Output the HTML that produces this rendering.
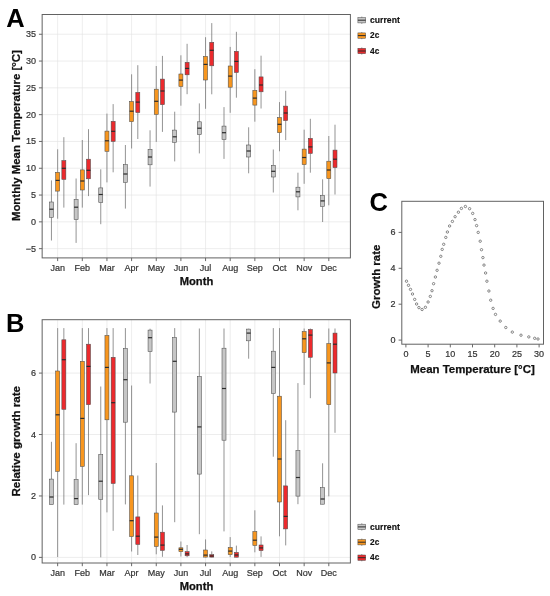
<!DOCTYPE html><html><head><meta charset="utf-8"><style>
html,body{margin:0;padding:0;background:#fff;}svg{display:block;}
text{font-family:"Liberation Sans", "DejaVu Sans", sans-serif;}
.tl{font-size:9px;fill:#333333;stroke:#333333;stroke-width:0.2px;}
.at{font-size:11px;font-weight:bold;fill:#111;stroke:#111;stroke-width:0.25px;}
.lg{font-size:9.2px;font-weight:bold;fill:#111;stroke:#111;stroke-width:0.15px;}
.pl{font-size:25.5px;font-weight:bold;fill:#000;}
</style></head><body>
<svg width="550" height="596" viewBox="0 0 550 596">
<rect width="550" height="596" fill="#fff"/>
<line x1="42.15" x2="350.4" y1="248.65" y2="248.65" stroke="#e0e0e0" stroke-width="0.6"/>
<line x1="42.15" x2="350.4" y1="221.85" y2="221.85" stroke="#e0e0e0" stroke-width="0.6"/>
<line x1="42.15" x2="350.4" y1="195.05" y2="195.05" stroke="#e0e0e0" stroke-width="0.6"/>
<line x1="42.15" x2="350.4" y1="168.25" y2="168.25" stroke="#e0e0e0" stroke-width="0.6"/>
<line x1="42.15" x2="350.4" y1="141.45" y2="141.45" stroke="#e0e0e0" stroke-width="0.6"/>
<line x1="42.15" x2="350.4" y1="114.65" y2="114.65" stroke="#e0e0e0" stroke-width="0.6"/>
<line x1="42.15" x2="350.4" y1="87.85" y2="87.85" stroke="#e0e0e0" stroke-width="0.6"/>
<line x1="42.15" x2="350.4" y1="61.05" y2="61.05" stroke="#e0e0e0" stroke-width="0.6"/>
<line x1="42.15" x2="350.4" y1="34.25" y2="34.25" stroke="#e0e0e0" stroke-width="0.6"/>
<line x1="57.65" x2="57.65" y1="14.5" y2="257.9" stroke="#e0e0e0" stroke-width="0.6"/>
<line x1="82.3" x2="82.3" y1="14.5" y2="257.9" stroke="#e0e0e0" stroke-width="0.6"/>
<line x1="106.95" x2="106.95" y1="14.5" y2="257.9" stroke="#e0e0e0" stroke-width="0.6"/>
<line x1="131.6" x2="131.6" y1="14.5" y2="257.9" stroke="#e0e0e0" stroke-width="0.6"/>
<line x1="156.25" x2="156.25" y1="14.5" y2="257.9" stroke="#e0e0e0" stroke-width="0.6"/>
<line x1="180.9" x2="180.9" y1="14.5" y2="257.9" stroke="#e0e0e0" stroke-width="0.6"/>
<line x1="205.55" x2="205.55" y1="14.5" y2="257.9" stroke="#e0e0e0" stroke-width="0.6"/>
<line x1="230.2" x2="230.2" y1="14.5" y2="257.9" stroke="#e0e0e0" stroke-width="0.6"/>
<line x1="254.85" x2="254.85" y1="14.5" y2="257.9" stroke="#e0e0e0" stroke-width="0.6"/>
<line x1="279.5" x2="279.5" y1="14.5" y2="257.9" stroke="#e0e0e0" stroke-width="0.6"/>
<line x1="304.15" x2="304.15" y1="14.5" y2="257.9" stroke="#e0e0e0" stroke-width="0.6"/>
<line x1="328.8" x2="328.8" y1="14.5" y2="257.9" stroke="#e0e0e0" stroke-width="0.6"/>
<line x1="51.45" x2="51.45" y1="180.4" y2="202" stroke="#666666" stroke-width="0.7"/>
<line x1="51.45" x2="51.45" y1="217.3" y2="240.5" stroke="#666666" stroke-width="0.7"/>
<rect x="49.45" y="202" width="4" height="15.3" fill="#c6c6c6" stroke="#4c4c4c" stroke-width="0.55"/>
<line x1="49.45" x2="53.45" y1="209.2" y2="209.2" stroke="#2b2b2b" stroke-width="1.2"/>
<line x1="57.65" x2="57.65" y1="149.3" y2="172.3" stroke="#666666" stroke-width="0.7"/>
<line x1="57.65" x2="57.65" y1="191.1" y2="218.7" stroke="#666666" stroke-width="0.7"/>
<rect x="55.65" y="172.3" width="4" height="18.8" fill="#f7961f" stroke="#4c4c4c" stroke-width="0.55"/>
<line x1="55.65" x2="59.65" y1="180.4" y2="180.4" stroke="#2b2b2b" stroke-width="1.2"/>
<line x1="63.85" x2="63.85" y1="137.2" y2="160.6" stroke="#666666" stroke-width="0.7"/>
<line x1="63.85" x2="63.85" y1="179.4" y2="207.6" stroke="#666666" stroke-width="0.7"/>
<rect x="61.85" y="160.6" width="4" height="18.8" fill="#ec2a2d" stroke="#4c4c4c" stroke-width="0.55"/>
<line x1="61.85" x2="65.85" y1="168.3" y2="168.3" stroke="#2b2b2b" stroke-width="1.2"/>
<line x1="76.1" x2="76.1" y1="178.5" y2="199.6" stroke="#666666" stroke-width="0.7"/>
<line x1="76.1" x2="76.1" y1="219.7" y2="242.9" stroke="#666666" stroke-width="0.7"/>
<rect x="74.1" y="199.6" width="4" height="20.1" fill="#c6c6c6" stroke="#4c4c4c" stroke-width="0.55"/>
<line x1="74.1" x2="78.1" y1="207.2" y2="207.2" stroke="#2b2b2b" stroke-width="1.2"/>
<line x1="82.3" x2="82.3" y1="140" y2="169.9" stroke="#666666" stroke-width="0.7"/>
<line x1="82.3" x2="82.3" y1="190" y2="207.6" stroke="#666666" stroke-width="0.7"/>
<rect x="80.3" y="169.9" width="4" height="20.1" fill="#f7961f" stroke="#4c4c4c" stroke-width="0.55"/>
<line x1="80.3" x2="84.3" y1="181" y2="181" stroke="#2b2b2b" stroke-width="1.2"/>
<line x1="88.5" x2="88.5" y1="129.2" y2="159.2" stroke="#666666" stroke-width="0.7"/>
<line x1="88.5" x2="88.5" y1="178.8" y2="196.1" stroke="#666666" stroke-width="0.7"/>
<rect x="86.5" y="159.2" width="4" height="19.6" fill="#ec2a2d" stroke="#4c4c4c" stroke-width="0.55"/>
<line x1="86.5" x2="90.5" y1="170.3" y2="170.3" stroke="#2b2b2b" stroke-width="1.2"/>
<line x1="100.75" x2="100.75" y1="169.3" y2="187.9" stroke="#666666" stroke-width="0.7"/>
<line x1="100.75" x2="100.75" y1="202.6" y2="224.2" stroke="#666666" stroke-width="0.7"/>
<rect x="98.75" y="187.9" width="4" height="14.7" fill="#c6c6c6" stroke="#4c4c4c" stroke-width="0.55"/>
<line x1="98.75" x2="102.75" y1="194.5" y2="194.5" stroke="#2b2b2b" stroke-width="1.2"/>
<line x1="106.95" x2="106.95" y1="113.6" y2="131.1" stroke="#666666" stroke-width="0.7"/>
<line x1="106.95" x2="106.95" y1="151.3" y2="182.4" stroke="#666666" stroke-width="0.7"/>
<rect x="104.95" y="131.1" width="4" height="20.2" fill="#f7961f" stroke="#4c4c4c" stroke-width="0.55"/>
<line x1="104.95" x2="108.95" y1="140.8" y2="140.8" stroke="#2b2b2b" stroke-width="1.2"/>
<line x1="113.15" x2="113.15" y1="104.1" y2="121.3" stroke="#666666" stroke-width="0.7"/>
<line x1="113.15" x2="113.15" y1="141.4" y2="172.3" stroke="#666666" stroke-width="0.7"/>
<rect x="111.15" y="121.3" width="4" height="20.1" fill="#ec2a2d" stroke="#4c4c4c" stroke-width="0.55"/>
<line x1="111.15" x2="115.15" y1="131.3" y2="131.3" stroke="#2b2b2b" stroke-width="1.2"/>
<line x1="125.4" x2="125.4" y1="145" y2="164.7" stroke="#666666" stroke-width="0.7"/>
<line x1="125.4" x2="125.4" y1="182.4" y2="208.6" stroke="#666666" stroke-width="0.7"/>
<rect x="123.4" y="164.7" width="4" height="17.7" fill="#c6c6c6" stroke="#4c4c4c" stroke-width="0.55"/>
<line x1="123.4" x2="127.4" y1="174" y2="174" stroke="#2b2b2b" stroke-width="1.2"/>
<line x1="131.6" x2="131.6" y1="74.3" y2="101.5" stroke="#666666" stroke-width="0.7"/>
<line x1="131.6" x2="131.6" y1="121.7" y2="148.5" stroke="#666666" stroke-width="0.7"/>
<rect x="129.6" y="101.5" width="4" height="20.2" fill="#f7961f" stroke="#4c4c4c" stroke-width="0.55"/>
<line x1="129.6" x2="133.6" y1="111.2" y2="111.2" stroke="#2b2b2b" stroke-width="1.2"/>
<line x1="137.8" x2="137.8" y1="65.2" y2="92.4" stroke="#666666" stroke-width="0.7"/>
<line x1="137.8" x2="137.8" y1="112.6" y2="139" stroke="#666666" stroke-width="0.7"/>
<rect x="135.8" y="92.4" width="4" height="20.2" fill="#ec2a2d" stroke="#4c4c4c" stroke-width="0.55"/>
<line x1="135.8" x2="139.8" y1="102.1" y2="102.1" stroke="#2b2b2b" stroke-width="1.2"/>
<line x1="150.05" x2="150.05" y1="130.3" y2="149.3" stroke="#666666" stroke-width="0.7"/>
<line x1="150.05" x2="150.05" y1="164.8" y2="186.6" stroke="#666666" stroke-width="0.7"/>
<rect x="148.05" y="149.3" width="4" height="15.5" fill="#c6c6c6" stroke="#4c4c4c" stroke-width="0.55"/>
<line x1="148.05" x2="152.05" y1="157" y2="157" stroke="#2b2b2b" stroke-width="1.2"/>
<line x1="156.25" x2="156.25" y1="66" y2="89.2" stroke="#666666" stroke-width="0.7"/>
<line x1="156.25" x2="156.25" y1="114.4" y2="141.9" stroke="#666666" stroke-width="0.7"/>
<rect x="154.25" y="89.2" width="4" height="25.2" fill="#f7961f" stroke="#4c4c4c" stroke-width="0.55"/>
<line x1="154.25" x2="158.25" y1="101.3" y2="101.3" stroke="#2b2b2b" stroke-width="1.2"/>
<line x1="162.45" x2="162.45" y1="55.9" y2="79.1" stroke="#666666" stroke-width="0.7"/>
<line x1="162.45" x2="162.45" y1="104.7" y2="131.9" stroke="#666666" stroke-width="0.7"/>
<rect x="160.45" y="79.1" width="4" height="25.6" fill="#ec2a2d" stroke="#4c4c4c" stroke-width="0.55"/>
<line x1="160.45" x2="164.45" y1="91" y2="91" stroke="#2b2b2b" stroke-width="1.2"/>
<line x1="174.7" x2="174.7" y1="111.7" y2="130.1" stroke="#666666" stroke-width="0.7"/>
<line x1="174.7" x2="174.7" y1="142.3" y2="161.4" stroke="#666666" stroke-width="0.7"/>
<rect x="172.7" y="130.1" width="4" height="12.2" fill="#c6c6c6" stroke="#4c4c4c" stroke-width="0.55"/>
<line x1="172.7" x2="176.7" y1="136.8" y2="136.8" stroke="#2b2b2b" stroke-width="1.2"/>
<line x1="180.9" x2="180.9" y1="55.3" y2="74" stroke="#666666" stroke-width="0.7"/>
<line x1="180.9" x2="180.9" y1="86.5" y2="105.7" stroke="#666666" stroke-width="0.7"/>
<rect x="178.9" y="74" width="4" height="12.5" fill="#f7961f" stroke="#4c4c4c" stroke-width="0.55"/>
<line x1="178.9" x2="182.9" y1="80.1" y2="80.1" stroke="#2b2b2b" stroke-width="1.2"/>
<line x1="187.1" x2="187.1" y1="43.8" y2="62.3" stroke="#666666" stroke-width="0.7"/>
<line x1="187.1" x2="187.1" y1="74.8" y2="94.2" stroke="#666666" stroke-width="0.7"/>
<rect x="185.1" y="62.3" width="4" height="12.5" fill="#ec2a2d" stroke="#4c4c4c" stroke-width="0.55"/>
<line x1="185.1" x2="189.1" y1="68.4" y2="68.4" stroke="#2b2b2b" stroke-width="1.2"/>
<line x1="199.35" x2="199.35" y1="103.4" y2="121.8" stroke="#666666" stroke-width="0.7"/>
<line x1="199.35" x2="199.35" y1="134.7" y2="153.4" stroke="#666666" stroke-width="0.7"/>
<rect x="197.35" y="121.8" width="4" height="12.9" fill="#c6c6c6" stroke="#4c4c4c" stroke-width="0.55"/>
<line x1="197.35" x2="201.35" y1="128.2" y2="128.2" stroke="#2b2b2b" stroke-width="1.2"/>
<line x1="205.55" x2="205.55" y1="37.2" y2="56.4" stroke="#666666" stroke-width="0.7"/>
<line x1="205.55" x2="205.55" y1="80" y2="108.8" stroke="#666666" stroke-width="0.7"/>
<rect x="203.55" y="56.4" width="4" height="23.6" fill="#f7961f" stroke="#4c4c4c" stroke-width="0.55"/>
<line x1="203.55" x2="207.55" y1="64.4" y2="64.4" stroke="#2b2b2b" stroke-width="1.2"/>
<line x1="211.75" x2="211.75" y1="23.1" y2="42.3" stroke="#666666" stroke-width="0.7"/>
<line x1="211.75" x2="211.75" y1="65.8" y2="94.3" stroke="#666666" stroke-width="0.7"/>
<rect x="209.75" y="42.3" width="4" height="23.5" fill="#ec2a2d" stroke="#4c4c4c" stroke-width="0.55"/>
<line x1="209.75" x2="213.75" y1="50.3" y2="50.3" stroke="#2b2b2b" stroke-width="1.2"/>
<line x1="224" x2="224" y1="107.1" y2="126.1" stroke="#666666" stroke-width="0.7"/>
<line x1="224" x2="224" y1="139.7" y2="158.9" stroke="#666666" stroke-width="0.7"/>
<rect x="222" y="126.1" width="4" height="13.6" fill="#c6c6c6" stroke="#4c4c4c" stroke-width="0.55"/>
<line x1="222" x2="226" y1="132.7" y2="132.7" stroke="#2b2b2b" stroke-width="1.2"/>
<line x1="230.2" x2="230.2" y1="46.9" y2="66" stroke="#666666" stroke-width="0.7"/>
<line x1="230.2" x2="230.2" y1="87.2" y2="112.8" stroke="#666666" stroke-width="0.7"/>
<rect x="228.2" y="66" width="4" height="21.2" fill="#f7961f" stroke="#4c4c4c" stroke-width="0.55"/>
<line x1="228.2" x2="232.2" y1="76.1" y2="76.1" stroke="#2b2b2b" stroke-width="1.2"/>
<line x1="236.4" x2="236.4" y1="31.8" y2="51.3" stroke="#666666" stroke-width="0.7"/>
<line x1="236.4" x2="236.4" y1="72.5" y2="97.7" stroke="#666666" stroke-width="0.7"/>
<rect x="234.4" y="51.3" width="4" height="21.2" fill="#ec2a2d" stroke="#4c4c4c" stroke-width="0.55"/>
<line x1="234.4" x2="238.4" y1="61.4" y2="61.4" stroke="#2b2b2b" stroke-width="1.2"/>
<line x1="248.65" x2="248.65" y1="127.3" y2="145" stroke="#666666" stroke-width="0.7"/>
<line x1="248.65" x2="248.65" y1="157" y2="173.3" stroke="#666666" stroke-width="0.7"/>
<rect x="246.65" y="145" width="4" height="12" fill="#c6c6c6" stroke="#4c4c4c" stroke-width="0.55"/>
<line x1="246.65" x2="250.65" y1="151" y2="151" stroke="#2b2b2b" stroke-width="1.2"/>
<line x1="254.85" x2="254.85" y1="69.2" y2="90.4" stroke="#666666" stroke-width="0.7"/>
<line x1="254.85" x2="254.85" y1="105.1" y2="121.7" stroke="#666666" stroke-width="0.7"/>
<rect x="252.85" y="90.4" width="4" height="14.7" fill="#f7961f" stroke="#4c4c4c" stroke-width="0.55"/>
<line x1="252.85" x2="256.85" y1="98.1" y2="98.1" stroke="#2b2b2b" stroke-width="1.2"/>
<line x1="261.05" x2="261.05" y1="55.7" y2="76.9" stroke="#666666" stroke-width="0.7"/>
<line x1="261.05" x2="261.05" y1="91.8" y2="108.5" stroke="#666666" stroke-width="0.7"/>
<rect x="259.05" y="76.9" width="4" height="14.9" fill="#ec2a2d" stroke="#4c4c4c" stroke-width="0.55"/>
<line x1="259.05" x2="263.05" y1="85" y2="85" stroke="#2b2b2b" stroke-width="1.2"/>
<line x1="273.3" x2="273.3" y1="149.5" y2="165.3" stroke="#666666" stroke-width="0.7"/>
<line x1="273.3" x2="273.3" y1="177" y2="192.5" stroke="#666666" stroke-width="0.7"/>
<rect x="271.3" y="165.3" width="4" height="11.7" fill="#c6c6c6" stroke="#4c4c4c" stroke-width="0.55"/>
<line x1="271.3" x2="275.3" y1="171.3" y2="171.3" stroke="#2b2b2b" stroke-width="1.2"/>
<line x1="279.5" x2="279.5" y1="102.1" y2="117.6" stroke="#666666" stroke-width="0.7"/>
<line x1="279.5" x2="279.5" y1="132.7" y2="151.3" stroke="#666666" stroke-width="0.7"/>
<rect x="277.5" y="117.6" width="4" height="15.1" fill="#f7961f" stroke="#4c4c4c" stroke-width="0.55"/>
<line x1="277.5" x2="281.5" y1="124.3" y2="124.3" stroke="#2b2b2b" stroke-width="1.2"/>
<line x1="285.7" x2="285.7" y1="90.8" y2="106.1" stroke="#666666" stroke-width="0.7"/>
<line x1="285.7" x2="285.7" y1="120.6" y2="140.1" stroke="#666666" stroke-width="0.7"/>
<rect x="283.7" y="106.1" width="4" height="14.5" fill="#ec2a2d" stroke="#4c4c4c" stroke-width="0.55"/>
<line x1="283.7" x2="287.7" y1="113" y2="113" stroke="#2b2b2b" stroke-width="1.2"/>
<line x1="297.95" x2="297.95" y1="172.7" y2="187.2" stroke="#666666" stroke-width="0.7"/>
<line x1="297.95" x2="297.95" y1="196.9" y2="210.3" stroke="#666666" stroke-width="0.7"/>
<rect x="295.95" y="187.2" width="4" height="9.7" fill="#c6c6c6" stroke="#4c4c4c" stroke-width="0.55"/>
<line x1="295.95" x2="299.95" y1="191.8" y2="191.8" stroke="#2b2b2b" stroke-width="1.2"/>
<line x1="304.15" x2="304.15" y1="129.7" y2="149.1" stroke="#666666" stroke-width="0.7"/>
<line x1="304.15" x2="304.15" y1="164.6" y2="183.8" stroke="#666666" stroke-width="0.7"/>
<rect x="302.15" y="149.1" width="4" height="15.5" fill="#f7961f" stroke="#4c4c4c" stroke-width="0.55"/>
<line x1="302.15" x2="306.15" y1="157.5" y2="157.5" stroke="#2b2b2b" stroke-width="1.2"/>
<line x1="310.35" x2="310.35" y1="118.8" y2="138.4" stroke="#666666" stroke-width="0.7"/>
<line x1="310.35" x2="310.35" y1="153.5" y2="172.7" stroke="#666666" stroke-width="0.7"/>
<rect x="308.35" y="138.4" width="4" height="15.1" fill="#ec2a2d" stroke="#4c4c4c" stroke-width="0.55"/>
<line x1="308.35" x2="312.35" y1="146.9" y2="146.9" stroke="#2b2b2b" stroke-width="1.2"/>
<line x1="322.6" x2="322.6" y1="179.3" y2="195.4" stroke="#666666" stroke-width="0.7"/>
<line x1="322.6" x2="322.6" y1="206.5" y2="222" stroke="#666666" stroke-width="0.7"/>
<rect x="320.6" y="195.4" width="4" height="11.1" fill="#c6c6c6" stroke="#4c4c4c" stroke-width="0.55"/>
<line x1="320.6" x2="324.6" y1="200.9" y2="200.9" stroke="#2b2b2b" stroke-width="1.2"/>
<line x1="328.8" x2="328.8" y1="136" y2="161.2" stroke="#666666" stroke-width="0.7"/>
<line x1="328.8" x2="328.8" y1="178.7" y2="205.3" stroke="#666666" stroke-width="0.7"/>
<rect x="326.8" y="161.2" width="4" height="17.5" fill="#f7961f" stroke="#4c4c4c" stroke-width="0.55"/>
<line x1="326.8" x2="330.8" y1="170" y2="170" stroke="#2b2b2b" stroke-width="1.2"/>
<line x1="335" x2="335" y1="124.7" y2="150.1" stroke="#666666" stroke-width="0.7"/>
<line x1="335" x2="335" y1="167.6" y2="194.5" stroke="#666666" stroke-width="0.7"/>
<rect x="333" y="150.1" width="4" height="17.5" fill="#ec2a2d" stroke="#4c4c4c" stroke-width="0.55"/>
<line x1="333" x2="337" y1="159.2" y2="159.2" stroke="#2b2b2b" stroke-width="1.2"/>
<line x1="38.95" x2="42.15" y1="248.65" y2="248.65" stroke="#444444" stroke-width="0.8"/>
<text x="35.95" y="251.65" text-anchor="end" class="tl">−5</text>
<line x1="38.95" x2="42.15" y1="221.85" y2="221.85" stroke="#444444" stroke-width="0.8"/>
<text x="35.95" y="224.85" text-anchor="end" class="tl">0</text>
<line x1="38.95" x2="42.15" y1="195.05" y2="195.05" stroke="#444444" stroke-width="0.8"/>
<text x="35.95" y="198.05" text-anchor="end" class="tl">5</text>
<line x1="38.95" x2="42.15" y1="168.25" y2="168.25" stroke="#444444" stroke-width="0.8"/>
<text x="35.95" y="171.25" text-anchor="end" class="tl">10</text>
<line x1="38.95" x2="42.15" y1="141.45" y2="141.45" stroke="#444444" stroke-width="0.8"/>
<text x="35.95" y="144.45" text-anchor="end" class="tl">15</text>
<line x1="38.95" x2="42.15" y1="114.65" y2="114.65" stroke="#444444" stroke-width="0.8"/>
<text x="35.95" y="117.65" text-anchor="end" class="tl">20</text>
<line x1="38.95" x2="42.15" y1="87.85" y2="87.85" stroke="#444444" stroke-width="0.8"/>
<text x="35.95" y="90.85" text-anchor="end" class="tl">25</text>
<line x1="38.95" x2="42.15" y1="61.05" y2="61.05" stroke="#444444" stroke-width="0.8"/>
<text x="35.95" y="64.05" text-anchor="end" class="tl">30</text>
<line x1="38.95" x2="42.15" y1="34.25" y2="34.25" stroke="#444444" stroke-width="0.8"/>
<text x="35.95" y="37.25" text-anchor="end" class="tl">35</text>
<line x1="57.65" x2="57.65" y1="257.9" y2="261.1" stroke="#444444" stroke-width="0.8"/>
<text x="57.65" y="271" text-anchor="middle" class="tl">Jan</text>
<line x1="82.3" x2="82.3" y1="257.9" y2="261.1" stroke="#444444" stroke-width="0.8"/>
<text x="82.3" y="271" text-anchor="middle" class="tl">Feb</text>
<line x1="106.95" x2="106.95" y1="257.9" y2="261.1" stroke="#444444" stroke-width="0.8"/>
<text x="106.95" y="271" text-anchor="middle" class="tl">Mar</text>
<line x1="131.6" x2="131.6" y1="257.9" y2="261.1" stroke="#444444" stroke-width="0.8"/>
<text x="131.6" y="271" text-anchor="middle" class="tl">Apr</text>
<line x1="156.25" x2="156.25" y1="257.9" y2="261.1" stroke="#444444" stroke-width="0.8"/>
<text x="156.25" y="271" text-anchor="middle" class="tl">May</text>
<line x1="180.9" x2="180.9" y1="257.9" y2="261.1" stroke="#444444" stroke-width="0.8"/>
<text x="180.9" y="271" text-anchor="middle" class="tl">Jun</text>
<line x1="205.55" x2="205.55" y1="257.9" y2="261.1" stroke="#444444" stroke-width="0.8"/>
<text x="205.55" y="271" text-anchor="middle" class="tl">Jul</text>
<line x1="230.2" x2="230.2" y1="257.9" y2="261.1" stroke="#444444" stroke-width="0.8"/>
<text x="230.2" y="271" text-anchor="middle" class="tl">Aug</text>
<line x1="254.85" x2="254.85" y1="257.9" y2="261.1" stroke="#444444" stroke-width="0.8"/>
<text x="254.85" y="271" text-anchor="middle" class="tl">Sep</text>
<line x1="279.5" x2="279.5" y1="257.9" y2="261.1" stroke="#444444" stroke-width="0.8"/>
<text x="279.5" y="271" text-anchor="middle" class="tl">Oct</text>
<line x1="304.15" x2="304.15" y1="257.9" y2="261.1" stroke="#444444" stroke-width="0.8"/>
<text x="304.15" y="271" text-anchor="middle" class="tl">Nov</text>
<line x1="328.8" x2="328.8" y1="257.9" y2="261.1" stroke="#444444" stroke-width="0.8"/>
<text x="328.8" y="271" text-anchor="middle" class="tl">Dec</text>
<rect x="42.15" y="14.5" width="308.25" height="243.4" fill="none" stroke="#626262" stroke-width="1"/>
<text x="196.5" y="284.7" text-anchor="middle" class="at" textLength="33.6" lengthAdjust="spacingAndGlyphs">Month</text>
<text transform="translate(20.1,135.6) rotate(-90)" text-anchor="middle" class="at" textLength="171" lengthAdjust="spacingAndGlyphs">Monthly Mean Temperature [°C]</text>
<text x="6.3" y="26.9" class="pl">A</text>
<line x1="361.8" x2="361.8" y1="16.6" y2="23.8" stroke="#666666" stroke-width="0.7"/>
<rect x="357.9" y="17.5" width="7.8" height="5.4" fill="#c6c6c6" stroke="#4c4c4c" stroke-width="0.5"/>
<line x1="357.9" x2="365.7" y1="20.2" y2="20.2" stroke="#2b2b2b" stroke-width="1"/>
<text x="370" y="22.95" class="lg" textLength="29.8" lengthAdjust="spacingAndGlyphs">current</text>
<line x1="361.8" x2="361.8" y1="32" y2="39.2" stroke="#666666" stroke-width="0.7"/>
<rect x="357.9" y="32.9" width="7.8" height="5.4" fill="#f7961f" stroke="#4c4c4c" stroke-width="0.5"/>
<line x1="357.9" x2="365.7" y1="35.6" y2="35.6" stroke="#2b2b2b" stroke-width="1"/>
<text x="370" y="38.35" class="lg" textLength="9.3" lengthAdjust="spacingAndGlyphs">2c</text>
<line x1="361.8" x2="361.8" y1="47.4" y2="54.6" stroke="#666666" stroke-width="0.7"/>
<rect x="357.9" y="48.3" width="7.8" height="5.4" fill="#ec2a2d" stroke="#4c4c4c" stroke-width="0.5"/>
<line x1="357.9" x2="365.7" y1="51" y2="51" stroke="#2b2b2b" stroke-width="1"/>
<text x="370" y="53.75" class="lg" textLength="9.3" lengthAdjust="spacingAndGlyphs">4c</text>
<line x1="42.15" x2="350.4" y1="557.4" y2="557.4" stroke="#e0e0e0" stroke-width="0.6"/>
<line x1="42.15" x2="350.4" y1="495.96" y2="495.96" stroke="#e0e0e0" stroke-width="0.6"/>
<line x1="42.15" x2="350.4" y1="434.52" y2="434.52" stroke="#e0e0e0" stroke-width="0.6"/>
<line x1="42.15" x2="350.4" y1="373.08" y2="373.08" stroke="#e0e0e0" stroke-width="0.6"/>
<line x1="57.65" x2="57.65" y1="319.7" y2="563" stroke="#e0e0e0" stroke-width="0.6"/>
<line x1="82.3" x2="82.3" y1="319.7" y2="563" stroke="#e0e0e0" stroke-width="0.6"/>
<line x1="106.95" x2="106.95" y1="319.7" y2="563" stroke="#e0e0e0" stroke-width="0.6"/>
<line x1="131.6" x2="131.6" y1="319.7" y2="563" stroke="#e0e0e0" stroke-width="0.6"/>
<line x1="156.25" x2="156.25" y1="319.7" y2="563" stroke="#e0e0e0" stroke-width="0.6"/>
<line x1="180.9" x2="180.9" y1="319.7" y2="563" stroke="#e0e0e0" stroke-width="0.6"/>
<line x1="205.55" x2="205.55" y1="319.7" y2="563" stroke="#e0e0e0" stroke-width="0.6"/>
<line x1="230.2" x2="230.2" y1="319.7" y2="563" stroke="#e0e0e0" stroke-width="0.6"/>
<line x1="254.85" x2="254.85" y1="319.7" y2="563" stroke="#e0e0e0" stroke-width="0.6"/>
<line x1="279.5" x2="279.5" y1="319.7" y2="563" stroke="#e0e0e0" stroke-width="0.6"/>
<line x1="304.15" x2="304.15" y1="319.7" y2="563" stroke="#e0e0e0" stroke-width="0.6"/>
<line x1="328.8" x2="328.8" y1="319.7" y2="563" stroke="#e0e0e0" stroke-width="0.6"/>
<line x1="51.45" x2="51.45" y1="441.8" y2="479.1" stroke="#666666" stroke-width="0.7"/>
<line x1="51.45" x2="51.45" y1="504.7" y2="504.7" stroke="#666666" stroke-width="0.7"/>
<rect x="49.45" y="479.1" width="4" height="25.6" fill="#c6c6c6" stroke="#4c4c4c" stroke-width="0.55"/>
<line x1="49.45" x2="53.45" y1="497" y2="497" stroke="#2b2b2b" stroke-width="1.2"/>
<line x1="57.65" x2="57.65" y1="328.1" y2="371" stroke="#666666" stroke-width="0.7"/>
<line x1="57.65" x2="57.65" y1="471.4" y2="557" stroke="#666666" stroke-width="0.7"/>
<rect x="55.65" y="371" width="4" height="100.4" fill="#f7961f" stroke="#4c4c4c" stroke-width="0.55"/>
<line x1="55.65" x2="59.65" y1="414.8" y2="414.8" stroke="#2b2b2b" stroke-width="1.2"/>
<line x1="63.85" x2="63.85" y1="328.1" y2="339.8" stroke="#666666" stroke-width="0.7"/>
<line x1="63.85" x2="63.85" y1="409.3" y2="504.6" stroke="#666666" stroke-width="0.7"/>
<rect x="61.85" y="339.8" width="4" height="69.5" fill="#ec2a2d" stroke="#4c4c4c" stroke-width="0.55"/>
<line x1="61.85" x2="65.85" y1="359.7" y2="359.7" stroke="#2b2b2b" stroke-width="1.2"/>
<line x1="76.1" x2="76.1" y1="443.2" y2="479.5" stroke="#666666" stroke-width="0.7"/>
<line x1="76.1" x2="76.1" y1="504.7" y2="504.7" stroke="#666666" stroke-width="0.7"/>
<rect x="74.1" y="479.5" width="4" height="25.2" fill="#c6c6c6" stroke="#4c4c4c" stroke-width="0.55"/>
<line x1="74.1" x2="78.1" y1="498.6" y2="498.6" stroke="#2b2b2b" stroke-width="1.2"/>
<line x1="82.3" x2="82.3" y1="328.1" y2="361.3" stroke="#666666" stroke-width="0.7"/>
<line x1="82.3" x2="82.3" y1="466.4" y2="504.6" stroke="#666666" stroke-width="0.7"/>
<rect x="80.3" y="361.3" width="4" height="105.1" fill="#f7961f" stroke="#4c4c4c" stroke-width="0.55"/>
<line x1="80.3" x2="84.3" y1="418.4" y2="418.4" stroke="#2b2b2b" stroke-width="1.2"/>
<line x1="88.5" x2="88.5" y1="328.1" y2="344.2" stroke="#666666" stroke-width="0.7"/>
<line x1="88.5" x2="88.5" y1="404.7" y2="495.1" stroke="#666666" stroke-width="0.7"/>
<rect x="86.5" y="344.2" width="4" height="60.5" fill="#ec2a2d" stroke="#4c4c4c" stroke-width="0.55"/>
<line x1="86.5" x2="90.5" y1="366.4" y2="366.4" stroke="#2b2b2b" stroke-width="1.2"/>
<line x1="100.75" x2="100.75" y1="386.5" y2="454.5" stroke="#666666" stroke-width="0.7"/>
<line x1="100.75" x2="100.75" y1="499.3" y2="557.3" stroke="#666666" stroke-width="0.7"/>
<rect x="98.75" y="454.5" width="4" height="44.8" fill="#c6c6c6" stroke="#4c4c4c" stroke-width="0.55"/>
<line x1="98.75" x2="102.75" y1="481.2" y2="481.2" stroke="#2b2b2b" stroke-width="1.2"/>
<line x1="106.95" x2="106.95" y1="328.1" y2="335.5" stroke="#666666" stroke-width="0.7"/>
<line x1="106.95" x2="106.95" y1="419.8" y2="512.4" stroke="#666666" stroke-width="0.7"/>
<rect x="104.95" y="335.5" width="4" height="84.3" fill="#f7961f" stroke="#4c4c4c" stroke-width="0.55"/>
<line x1="104.95" x2="108.95" y1="367.4" y2="367.4" stroke="#2b2b2b" stroke-width="1.2"/>
<line x1="113.15" x2="113.15" y1="328.1" y2="357.3" stroke="#666666" stroke-width="0.7"/>
<line x1="113.15" x2="113.15" y1="483.5" y2="530.8" stroke="#666666" stroke-width="0.7"/>
<rect x="111.15" y="357.3" width="4" height="126.2" fill="#ec2a2d" stroke="#4c4c4c" stroke-width="0.55"/>
<line x1="111.15" x2="115.15" y1="402.7" y2="402.7" stroke="#2b2b2b" stroke-width="1.2"/>
<line x1="125.4" x2="125.4" y1="328.1" y2="348.6" stroke="#666666" stroke-width="0.7"/>
<line x1="125.4" x2="125.4" y1="422.2" y2="504.4" stroke="#666666" stroke-width="0.7"/>
<rect x="123.4" y="348.6" width="4" height="73.6" fill="#c6c6c6" stroke="#4c4c4c" stroke-width="0.55"/>
<line x1="123.4" x2="127.4" y1="379.7" y2="379.7" stroke="#2b2b2b" stroke-width="1.2"/>
<line x1="131.6" x2="131.6" y1="385.5" y2="475.8" stroke="#666666" stroke-width="0.7"/>
<line x1="131.6" x2="131.6" y1="536.6" y2="551.5" stroke="#666666" stroke-width="0.7"/>
<rect x="129.6" y="475.8" width="4" height="60.8" fill="#f7961f" stroke="#4c4c4c" stroke-width="0.55"/>
<line x1="129.6" x2="133.6" y1="520.7" y2="520.7" stroke="#2b2b2b" stroke-width="1.2"/>
<line x1="137.8" x2="137.8" y1="475.5" y2="516.9" stroke="#666666" stroke-width="0.7"/>
<line x1="137.8" x2="137.8" y1="544.5" y2="555" stroke="#666666" stroke-width="0.7"/>
<rect x="135.8" y="516.9" width="4" height="27.6" fill="#ec2a2d" stroke="#4c4c4c" stroke-width="0.55"/>
<line x1="135.8" x2="139.8" y1="536.2" y2="536.2" stroke="#2b2b2b" stroke-width="1.2"/>
<line x1="150.05" x2="150.05" y1="328.7" y2="330.1" stroke="#666666" stroke-width="0.7"/>
<line x1="150.05" x2="150.05" y1="351.7" y2="383.5" stroke="#666666" stroke-width="0.7"/>
<rect x="148.05" y="330.1" width="4" height="21.6" fill="#c6c6c6" stroke="#4c4c4c" stroke-width="0.55"/>
<line x1="148.05" x2="152.05" y1="337.7" y2="337.7" stroke="#2b2b2b" stroke-width="1.2"/>
<line x1="156.25" x2="156.25" y1="463" y2="513" stroke="#666666" stroke-width="0.7"/>
<line x1="156.25" x2="156.25" y1="546.5" y2="554.3" stroke="#666666" stroke-width="0.7"/>
<rect x="154.25" y="513" width="4" height="33.5" fill="#f7961f" stroke="#4c4c4c" stroke-width="0.55"/>
<line x1="154.25" x2="158.25" y1="537.1" y2="537.1" stroke="#2b2b2b" stroke-width="1.2"/>
<line x1="162.45" x2="162.45" y1="505.4" y2="532.2" stroke="#666666" stroke-width="0.7"/>
<line x1="162.45" x2="162.45" y1="550.4" y2="556.8" stroke="#666666" stroke-width="0.7"/>
<rect x="160.45" y="532.2" width="4" height="18.2" fill="#ec2a2d" stroke="#4c4c4c" stroke-width="0.55"/>
<line x1="160.45" x2="164.45" y1="545.1" y2="545.1" stroke="#2b2b2b" stroke-width="1.2"/>
<line x1="174.7" x2="174.7" y1="328.1" y2="337.7" stroke="#666666" stroke-width="0.7"/>
<line x1="174.7" x2="174.7" y1="412.1" y2="522.2" stroke="#666666" stroke-width="0.7"/>
<rect x="172.7" y="337.7" width="4" height="74.4" fill="#c6c6c6" stroke="#4c4c4c" stroke-width="0.55"/>
<line x1="172.7" x2="176.7" y1="361.3" y2="361.3" stroke="#2b2b2b" stroke-width="1.2"/>
<line x1="180.9" x2="180.9" y1="541.5" y2="547.8" stroke="#666666" stroke-width="0.7"/>
<line x1="180.9" x2="180.9" y1="551.7" y2="556.5" stroke="#666666" stroke-width="0.7"/>
<rect x="178.9" y="547.8" width="4" height="3.9" fill="#f7961f" stroke="#4c4c4c" stroke-width="0.55"/>
<line x1="178.9" x2="182.9" y1="549.3" y2="549.3" stroke="#2b2b2b" stroke-width="1.2"/>
<line x1="187.1" x2="187.1" y1="545" y2="551.6" stroke="#666666" stroke-width="0.7"/>
<line x1="187.1" x2="187.1" y1="555.8" y2="557.2" stroke="#666666" stroke-width="0.7"/>
<rect x="185.1" y="551.6" width="4" height="4.2" fill="#ec2a2d" stroke="#4c4c4c" stroke-width="0.55"/>
<line x1="185.1" x2="189.1" y1="553.9" y2="553.9" stroke="#2b2b2b" stroke-width="1.2"/>
<line x1="199.35" x2="199.35" y1="328.5" y2="376.5" stroke="#666666" stroke-width="0.7"/>
<line x1="199.35" x2="199.35" y1="474.1" y2="534.2" stroke="#666666" stroke-width="0.7"/>
<rect x="197.35" y="376.5" width="4" height="97.6" fill="#c6c6c6" stroke="#4c4c4c" stroke-width="0.55"/>
<line x1="197.35" x2="201.35" y1="426.9" y2="426.9" stroke="#2b2b2b" stroke-width="1.2"/>
<line x1="205.55" x2="205.55" y1="539.4" y2="550" stroke="#666666" stroke-width="0.7"/>
<line x1="205.55" x2="205.55" y1="557.1" y2="557.4" stroke="#666666" stroke-width="0.7"/>
<rect x="203.55" y="550" width="4" height="7.1" fill="#f7961f" stroke="#4c4c4c" stroke-width="0.55"/>
<line x1="203.55" x2="207.55" y1="555.1" y2="555.1" stroke="#2b2b2b" stroke-width="1.2"/>
<line x1="211.75" x2="211.75" y1="551.4" y2="554.7" stroke="#666666" stroke-width="0.7"/>
<line x1="211.75" x2="211.75" y1="557.1" y2="557.4" stroke="#666666" stroke-width="0.7"/>
<rect x="209.75" y="554.7" width="4" height="2.4" fill="#ec2a2d" stroke="#4c4c4c" stroke-width="0.55"/>
<line x1="209.75" x2="213.75" y1="556" y2="556" stroke="#2b2b2b" stroke-width="1.2"/>
<line x1="224" x2="224" y1="328.5" y2="348.2" stroke="#666666" stroke-width="0.7"/>
<line x1="224" x2="224" y1="440.2" y2="531.4" stroke="#666666" stroke-width="0.7"/>
<rect x="222" y="348.2" width="4" height="92" fill="#c6c6c6" stroke="#4c4c4c" stroke-width="0.55"/>
<line x1="222" x2="226" y1="388.5" y2="388.5" stroke="#2b2b2b" stroke-width="1.2"/>
<line x1="230.2" x2="230.2" y1="537.1" y2="547.5" stroke="#666666" stroke-width="0.7"/>
<line x1="230.2" x2="230.2" y1="554.7" y2="557.1" stroke="#666666" stroke-width="0.7"/>
<rect x="228.2" y="547.5" width="4" height="7.2" fill="#f7961f" stroke="#4c4c4c" stroke-width="0.55"/>
<line x1="228.2" x2="232.2" y1="551.1" y2="551.1" stroke="#2b2b2b" stroke-width="1.2"/>
<line x1="236.4" x2="236.4" y1="545.6" y2="552.4" stroke="#666666" stroke-width="0.7"/>
<line x1="236.4" x2="236.4" y1="557.2" y2="557.4" stroke="#666666" stroke-width="0.7"/>
<rect x="234.4" y="552.4" width="4" height="4.8" fill="#ec2a2d" stroke="#4c4c4c" stroke-width="0.55"/>
<line x1="234.4" x2="238.4" y1="555" y2="555" stroke="#2b2b2b" stroke-width="1.2"/>
<line x1="248.65" x2="248.65" y1="328.7" y2="329.1" stroke="#666666" stroke-width="0.7"/>
<line x1="248.65" x2="248.65" y1="340.8" y2="358.7" stroke="#666666" stroke-width="0.7"/>
<rect x="246.65" y="329.1" width="4" height="11.7" fill="#c6c6c6" stroke="#4c4c4c" stroke-width="0.55"/>
<line x1="246.65" x2="250.65" y1="333.1" y2="333.1" stroke="#2b2b2b" stroke-width="1.2"/>
<line x1="254.85" x2="254.85" y1="510.3" y2="531.5" stroke="#666666" stroke-width="0.7"/>
<line x1="254.85" x2="254.85" y1="545.5" y2="552.3" stroke="#666666" stroke-width="0.7"/>
<rect x="252.85" y="531.5" width="4" height="14" fill="#f7961f" stroke="#4c4c4c" stroke-width="0.55"/>
<line x1="252.85" x2="256.85" y1="540.2" y2="540.2" stroke="#2b2b2b" stroke-width="1.2"/>
<line x1="261.05" x2="261.05" y1="536.4" y2="545" stroke="#666666" stroke-width="0.7"/>
<line x1="261.05" x2="261.05" y1="550.6" y2="556.9" stroke="#666666" stroke-width="0.7"/>
<rect x="259.05" y="545" width="4" height="5.6" fill="#ec2a2d" stroke="#4c4c4c" stroke-width="0.55"/>
<line x1="259.05" x2="263.05" y1="547.9" y2="547.9" stroke="#2b2b2b" stroke-width="1.2"/>
<line x1="273.3" x2="273.3" y1="328.1" y2="351.2" stroke="#666666" stroke-width="0.7"/>
<line x1="273.3" x2="273.3" y1="393.6" y2="456.7" stroke="#666666" stroke-width="0.7"/>
<rect x="271.3" y="351.2" width="4" height="42.4" fill="#c6c6c6" stroke="#4c4c4c" stroke-width="0.55"/>
<line x1="271.3" x2="275.3" y1="367.4" y2="367.4" stroke="#2b2b2b" stroke-width="1.2"/>
<line x1="279.5" x2="279.5" y1="328.1" y2="396.2" stroke="#666666" stroke-width="0.7"/>
<line x1="279.5" x2="279.5" y1="502" y2="536.3" stroke="#666666" stroke-width="0.7"/>
<rect x="277.5" y="396.2" width="4" height="105.8" fill="#f7961f" stroke="#4c4c4c" stroke-width="0.55"/>
<line x1="277.5" x2="281.5" y1="459" y2="459" stroke="#2b2b2b" stroke-width="1.2"/>
<line x1="285.7" x2="285.7" y1="420.2" y2="485.9" stroke="#666666" stroke-width="0.7"/>
<line x1="285.7" x2="285.7" y1="528.9" y2="545.4" stroke="#666666" stroke-width="0.7"/>
<rect x="283.7" y="485.9" width="4" height="43" fill="#ec2a2d" stroke="#4c4c4c" stroke-width="0.55"/>
<line x1="283.7" x2="287.7" y1="516.4" y2="516.4" stroke="#2b2b2b" stroke-width="1.2"/>
<line x1="297.95" x2="297.95" y1="383.1" y2="450.6" stroke="#666666" stroke-width="0.7"/>
<line x1="297.95" x2="297.95" y1="496.1" y2="504.2" stroke="#666666" stroke-width="0.7"/>
<rect x="295.95" y="450.6" width="4" height="45.5" fill="#c6c6c6" stroke="#4c4c4c" stroke-width="0.55"/>
<line x1="295.95" x2="299.95" y1="477.5" y2="477.5" stroke="#2b2b2b" stroke-width="1.2"/>
<line x1="304.15" x2="304.15" y1="328.5" y2="331.5" stroke="#666666" stroke-width="0.7"/>
<line x1="304.15" x2="304.15" y1="352.7" y2="384.9" stroke="#666666" stroke-width="0.7"/>
<rect x="302.15" y="331.5" width="4" height="21.2" fill="#f7961f" stroke="#4c4c4c" stroke-width="0.55"/>
<line x1="302.15" x2="306.15" y1="338.8" y2="338.8" stroke="#2b2b2b" stroke-width="1.2"/>
<line x1="310.35" x2="310.35" y1="328.5" y2="329.5" stroke="#666666" stroke-width="0.7"/>
<line x1="310.35" x2="310.35" y1="357.3" y2="398.2" stroke="#666666" stroke-width="0.7"/>
<rect x="308.35" y="329.5" width="4" height="27.8" fill="#ec2a2d" stroke="#4c4c4c" stroke-width="0.55"/>
<line x1="308.35" x2="312.35" y1="335.1" y2="335.1" stroke="#2b2b2b" stroke-width="1.2"/>
<line x1="322.6" x2="322.6" y1="463.3" y2="487.7" stroke="#666666" stroke-width="0.7"/>
<line x1="322.6" x2="322.6" y1="504.2" y2="504.4" stroke="#666666" stroke-width="0.7"/>
<rect x="320.6" y="487.7" width="4" height="16.5" fill="#c6c6c6" stroke="#4c4c4c" stroke-width="0.55"/>
<line x1="320.6" x2="324.6" y1="499" y2="499" stroke="#2b2b2b" stroke-width="1.2"/>
<line x1="328.8" x2="328.8" y1="328.5" y2="343.6" stroke="#666666" stroke-width="0.7"/>
<line x1="328.8" x2="328.8" y1="404.7" y2="496.3" stroke="#666666" stroke-width="0.7"/>
<rect x="326.8" y="343.6" width="4" height="61.1" fill="#f7961f" stroke="#4c4c4c" stroke-width="0.55"/>
<line x1="326.8" x2="330.8" y1="362.9" y2="362.9" stroke="#2b2b2b" stroke-width="1.2"/>
<line x1="335" x2="335" y1="328.5" y2="333.1" stroke="#666666" stroke-width="0.7"/>
<line x1="335" x2="335" y1="373" y2="432.8" stroke="#666666" stroke-width="0.7"/>
<rect x="333" y="333.1" width="4" height="39.9" fill="#ec2a2d" stroke="#4c4c4c" stroke-width="0.55"/>
<line x1="333" x2="337" y1="344.2" y2="344.2" stroke="#2b2b2b" stroke-width="1.2"/>
<line x1="38.95" x2="42.15" y1="557.4" y2="557.4" stroke="#444444" stroke-width="0.8"/>
<text x="35.95" y="560.4" text-anchor="end" class="tl">0</text>
<line x1="38.95" x2="42.15" y1="495.96" y2="495.96" stroke="#444444" stroke-width="0.8"/>
<text x="35.95" y="498.96" text-anchor="end" class="tl">2</text>
<line x1="38.95" x2="42.15" y1="434.52" y2="434.52" stroke="#444444" stroke-width="0.8"/>
<text x="35.95" y="437.52" text-anchor="end" class="tl">4</text>
<line x1="38.95" x2="42.15" y1="373.08" y2="373.08" stroke="#444444" stroke-width="0.8"/>
<text x="35.95" y="376.08" text-anchor="end" class="tl">6</text>
<line x1="57.65" x2="57.65" y1="563" y2="566.2" stroke="#444444" stroke-width="0.8"/>
<text x="57.65" y="576.1" text-anchor="middle" class="tl">Jan</text>
<line x1="82.3" x2="82.3" y1="563" y2="566.2" stroke="#444444" stroke-width="0.8"/>
<text x="82.3" y="576.1" text-anchor="middle" class="tl">Feb</text>
<line x1="106.95" x2="106.95" y1="563" y2="566.2" stroke="#444444" stroke-width="0.8"/>
<text x="106.95" y="576.1" text-anchor="middle" class="tl">Mar</text>
<line x1="131.6" x2="131.6" y1="563" y2="566.2" stroke="#444444" stroke-width="0.8"/>
<text x="131.6" y="576.1" text-anchor="middle" class="tl">Apr</text>
<line x1="156.25" x2="156.25" y1="563" y2="566.2" stroke="#444444" stroke-width="0.8"/>
<text x="156.25" y="576.1" text-anchor="middle" class="tl">May</text>
<line x1="180.9" x2="180.9" y1="563" y2="566.2" stroke="#444444" stroke-width="0.8"/>
<text x="180.9" y="576.1" text-anchor="middle" class="tl">Jun</text>
<line x1="205.55" x2="205.55" y1="563" y2="566.2" stroke="#444444" stroke-width="0.8"/>
<text x="205.55" y="576.1" text-anchor="middle" class="tl">Jul</text>
<line x1="230.2" x2="230.2" y1="563" y2="566.2" stroke="#444444" stroke-width="0.8"/>
<text x="230.2" y="576.1" text-anchor="middle" class="tl">Aug</text>
<line x1="254.85" x2="254.85" y1="563" y2="566.2" stroke="#444444" stroke-width="0.8"/>
<text x="254.85" y="576.1" text-anchor="middle" class="tl">Sep</text>
<line x1="279.5" x2="279.5" y1="563" y2="566.2" stroke="#444444" stroke-width="0.8"/>
<text x="279.5" y="576.1" text-anchor="middle" class="tl">Oct</text>
<line x1="304.15" x2="304.15" y1="563" y2="566.2" stroke="#444444" stroke-width="0.8"/>
<text x="304.15" y="576.1" text-anchor="middle" class="tl">Nov</text>
<line x1="328.8" x2="328.8" y1="563" y2="566.2" stroke="#444444" stroke-width="0.8"/>
<text x="328.8" y="576.1" text-anchor="middle" class="tl">Dec</text>
<rect x="42.15" y="319.7" width="308.25" height="243.3" fill="none" stroke="#626262" stroke-width="1"/>
<text x="196.5" y="590" text-anchor="middle" class="at" textLength="33.6" lengthAdjust="spacingAndGlyphs">Month</text>
<text transform="translate(19.7,441.3) rotate(-90)" text-anchor="middle" class="at" textLength="110.5" lengthAdjust="spacingAndGlyphs">Relative growth rate</text>
<text x="6.1" y="331.9" class="pl">B</text>
<line x1="361.8" x2="361.8" y1="523.3" y2="530.5" stroke="#666666" stroke-width="0.7"/>
<rect x="357.9" y="524.2" width="7.8" height="5.4" fill="#c6c6c6" stroke="#4c4c4c" stroke-width="0.5"/>
<line x1="357.9" x2="365.7" y1="526.9" y2="526.9" stroke="#2b2b2b" stroke-width="1"/>
<text x="370" y="529.65" class="lg" textLength="29.8" lengthAdjust="spacingAndGlyphs">current</text>
<line x1="361.8" x2="361.8" y1="538.6" y2="545.8" stroke="#666666" stroke-width="0.7"/>
<rect x="357.9" y="539.5" width="7.8" height="5.4" fill="#f7961f" stroke="#4c4c4c" stroke-width="0.5"/>
<line x1="357.9" x2="365.7" y1="542.2" y2="542.2" stroke="#2b2b2b" stroke-width="1"/>
<text x="370" y="544.95" class="lg" textLength="9.3" lengthAdjust="spacingAndGlyphs">2c</text>
<line x1="361.8" x2="361.8" y1="554.1" y2="561.3" stroke="#666666" stroke-width="0.7"/>
<rect x="357.9" y="555" width="7.8" height="5.4" fill="#ec2a2d" stroke="#4c4c4c" stroke-width="0.5"/>
<line x1="357.9" x2="365.7" y1="557.7" y2="557.7" stroke="#2b2b2b" stroke-width="1"/>
<text x="370" y="560.45" class="lg" textLength="9.3" lengthAdjust="spacingAndGlyphs">4c</text>
<circle cx="406.5" cy="281.2" r="1.2" fill="none" stroke="#585858" stroke-width="0.7"/>
<circle cx="408.5" cy="285.3" r="1.2" fill="none" stroke="#585858" stroke-width="0.7"/>
<circle cx="410.5" cy="289.4" r="1.2" fill="none" stroke="#585858" stroke-width="0.7"/>
<circle cx="412.5" cy="294" r="1.2" fill="none" stroke="#585858" stroke-width="0.7"/>
<circle cx="414.7" cy="299.4" r="1.2" fill="none" stroke="#585858" stroke-width="0.7"/>
<circle cx="416.6" cy="304" r="1.2" fill="none" stroke="#585858" stroke-width="0.7"/>
<circle cx="418.9" cy="307.6" r="1.2" fill="none" stroke="#585858" stroke-width="0.7"/>
<circle cx="422.1" cy="309.5" r="1.2" fill="none" stroke="#585858" stroke-width="0.7"/>
<circle cx="425.4" cy="307.3" r="1.2" fill="none" stroke="#585858" stroke-width="0.7"/>
<circle cx="428.1" cy="302" r="1.2" fill="none" stroke="#585858" stroke-width="0.7"/>
<circle cx="430.3" cy="296.4" r="1.2" fill="none" stroke="#585858" stroke-width="0.7"/>
<circle cx="432" cy="290.7" r="1.2" fill="none" stroke="#585858" stroke-width="0.7"/>
<circle cx="433.6" cy="283.7" r="1.2" fill="none" stroke="#585858" stroke-width="0.7"/>
<circle cx="435.4" cy="277" r="1.2" fill="none" stroke="#585858" stroke-width="0.7"/>
<circle cx="437.1" cy="270.3" r="1.2" fill="none" stroke="#585858" stroke-width="0.7"/>
<circle cx="439" cy="263.2" r="1.2" fill="none" stroke="#585858" stroke-width="0.7"/>
<circle cx="440.8" cy="256.3" r="1.2" fill="none" stroke="#585858" stroke-width="0.7"/>
<circle cx="442.2" cy="249.4" r="1.2" fill="none" stroke="#585858" stroke-width="0.7"/>
<circle cx="443.7" cy="244.3" r="1.2" fill="none" stroke="#585858" stroke-width="0.7"/>
<circle cx="445.8" cy="237.4" r="1.2" fill="none" stroke="#585858" stroke-width="0.7"/>
<circle cx="447.4" cy="232" r="1.2" fill="none" stroke="#585858" stroke-width="0.7"/>
<circle cx="449.6" cy="226" r="1.2" fill="none" stroke="#585858" stroke-width="0.7"/>
<circle cx="452.4" cy="221.4" r="1.2" fill="none" stroke="#585858" stroke-width="0.7"/>
<circle cx="455.1" cy="216.7" r="1.2" fill="none" stroke="#585858" stroke-width="0.7"/>
<circle cx="458.4" cy="212.2" r="1.2" fill="none" stroke="#585858" stroke-width="0.7"/>
<circle cx="461.4" cy="208.4" r="1.2" fill="none" stroke="#585858" stroke-width="0.7"/>
<circle cx="465.4" cy="206.5" r="1.2" fill="none" stroke="#585858" stroke-width="0.7"/>
<circle cx="469.6" cy="208.7" r="1.2" fill="none" stroke="#585858" stroke-width="0.7"/>
<circle cx="472.7" cy="213.4" r="1.2" fill="none" stroke="#585858" stroke-width="0.7"/>
<circle cx="475" cy="219.6" r="1.2" fill="none" stroke="#585858" stroke-width="0.7"/>
<circle cx="476.6" cy="225.6" r="1.2" fill="none" stroke="#585858" stroke-width="0.7"/>
<circle cx="478.2" cy="232.4" r="1.2" fill="none" stroke="#585858" stroke-width="0.7"/>
<circle cx="480.2" cy="241.2" r="1.2" fill="none" stroke="#585858" stroke-width="0.7"/>
<circle cx="481.5" cy="249.7" r="1.2" fill="none" stroke="#585858" stroke-width="0.7"/>
<circle cx="482.9" cy="257.6" r="1.2" fill="none" stroke="#585858" stroke-width="0.7"/>
<circle cx="484" cy="265.1" r="1.2" fill="none" stroke="#585858" stroke-width="0.7"/>
<circle cx="485.6" cy="273" r="1.2" fill="none" stroke="#585858" stroke-width="0.7"/>
<circle cx="486.9" cy="281.2" r="1.2" fill="none" stroke="#585858" stroke-width="0.7"/>
<circle cx="488.9" cy="291" r="1.2" fill="none" stroke="#585858" stroke-width="0.7"/>
<circle cx="490.7" cy="300.2" r="1.2" fill="none" stroke="#585858" stroke-width="0.7"/>
<circle cx="493.1" cy="308.4" r="1.2" fill="none" stroke="#585858" stroke-width="0.7"/>
<circle cx="495.5" cy="314.4" r="1.2" fill="none" stroke="#585858" stroke-width="0.7"/>
<circle cx="500.2" cy="321.1" r="1.2" fill="none" stroke="#585858" stroke-width="0.7"/>
<circle cx="505.8" cy="327.5" r="1.2" fill="none" stroke="#585858" stroke-width="0.7"/>
<circle cx="512.3" cy="332.1" r="1.2" fill="none" stroke="#585858" stroke-width="0.7"/>
<circle cx="521" cy="335.2" r="1.2" fill="none" stroke="#585858" stroke-width="0.7"/>
<circle cx="528.8" cy="336.9" r="1.2" fill="none" stroke="#585858" stroke-width="0.7"/>
<circle cx="534.7" cy="338.3" r="1.2" fill="none" stroke="#585858" stroke-width="0.7"/>
<circle cx="538" cy="339" r="1.2" fill="none" stroke="#585858" stroke-width="0.7"/>
<line x1="398.6" x2="401.8" y1="340.1" y2="340.1" stroke="#444444" stroke-width="0.8"/>
<text x="395.6" y="343.1" text-anchor="end" class="tl">0</text>
<line x1="398.6" x2="401.8" y1="304.2" y2="304.2" stroke="#444444" stroke-width="0.8"/>
<text x="395.6" y="307.2" text-anchor="end" class="tl">2</text>
<line x1="398.6" x2="401.8" y1="268.3" y2="268.3" stroke="#444444" stroke-width="0.8"/>
<text x="395.6" y="271.3" text-anchor="end" class="tl">4</text>
<line x1="398.6" x2="401.8" y1="232.4" y2="232.4" stroke="#444444" stroke-width="0.8"/>
<text x="395.6" y="235.4" text-anchor="end" class="tl">6</text>
<line x1="405.9" x2="405.9" y1="344.2" y2="347.4" stroke="#444444" stroke-width="0.8"/>
<text x="405.9" y="357.1" text-anchor="middle" class="tl">0</text>
<line x1="428.1" x2="428.1" y1="344.2" y2="347.4" stroke="#444444" stroke-width="0.8"/>
<text x="428.1" y="357.1" text-anchor="middle" class="tl">5</text>
<line x1="450.3" x2="450.3" y1="344.2" y2="347.4" stroke="#444444" stroke-width="0.8"/>
<text x="450.3" y="357.1" text-anchor="middle" class="tl">10</text>
<line x1="472.5" x2="472.5" y1="344.2" y2="347.4" stroke="#444444" stroke-width="0.8"/>
<text x="472.5" y="357.1" text-anchor="middle" class="tl">15</text>
<line x1="494.7" x2="494.7" y1="344.2" y2="347.4" stroke="#444444" stroke-width="0.8"/>
<text x="494.7" y="357.1" text-anchor="middle" class="tl">20</text>
<line x1="516.9" x2="516.9" y1="344.2" y2="347.4" stroke="#444444" stroke-width="0.8"/>
<text x="516.9" y="357.1" text-anchor="middle" class="tl">25</text>
<line x1="539.1" x2="539.1" y1="344.2" y2="347.4" stroke="#444444" stroke-width="0.8"/>
<text x="539.1" y="357.1" text-anchor="middle" class="tl">30</text>
<rect x="401.8" y="201.3" width="141.7" height="142.9" fill="none" stroke="#626262" stroke-width="1"/>
<text x="472.5" y="373.2" text-anchor="middle" class="at" textLength="124.4" lengthAdjust="spacingAndGlyphs">Mean Temperature [°C]</text>
<text transform="translate(380.3,276.8) rotate(-90)" text-anchor="middle" class="at" textLength="64.4" lengthAdjust="spacingAndGlyphs">Growth rate</text>
<text x="369.6" y="211.4" class="pl">C</text>
</svg></body></html>
